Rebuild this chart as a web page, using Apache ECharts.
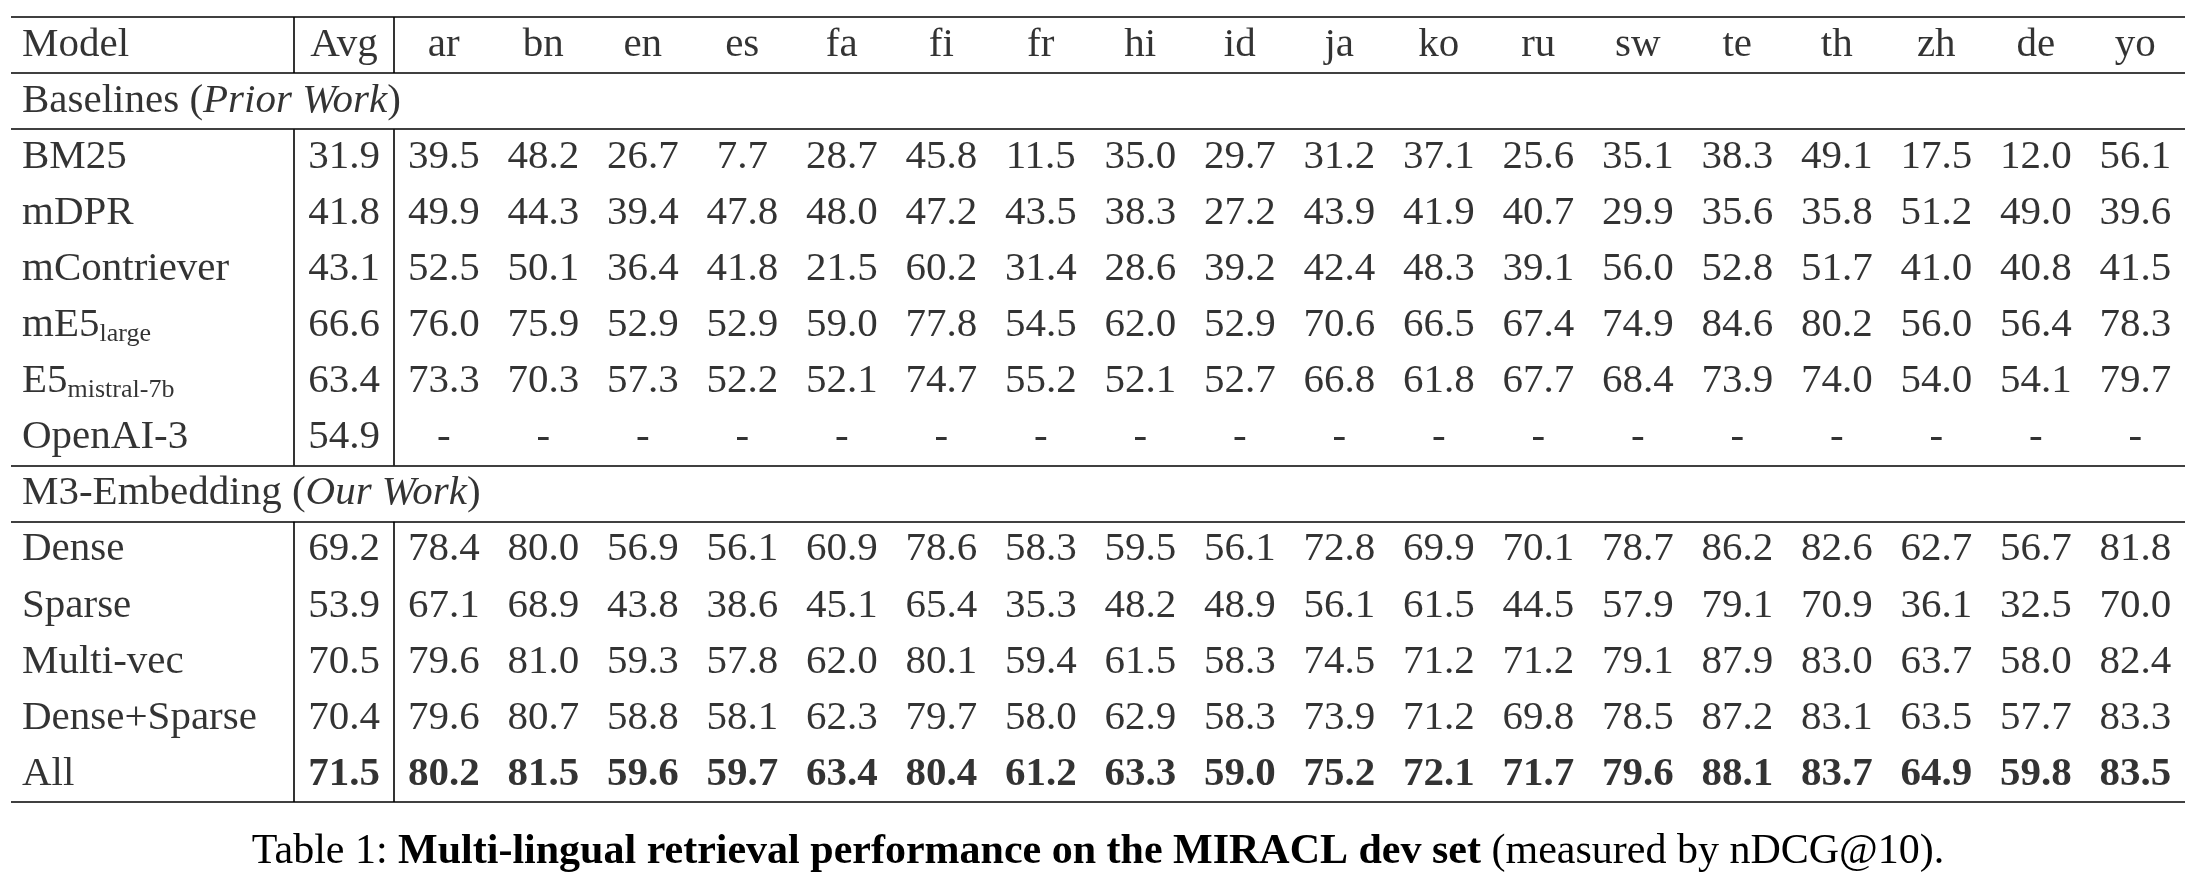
<!DOCTYPE html>
<html><head><meta charset="utf-8">
<script src="https://cdn.jsdelivr.net/npm/echarts@6/dist/echarts.min.js"></script>
<style>html,body{margin:0;padding:0;background:#fff}#c{width:2196px;height:890px}</style>
</head><body><div id="c"></div>
<script>
const languages=['ar','bn','en','es','fa','fi','fr','hi','id','ja','ko','ru','sw','te','th','zh','de','yo'];
const baselineModels=['BM25','mDPR','mContriever','mE5|large','E5|mistral-7b','OpenAI-3'];
const baselineAvg=['31.9','41.8','43.1','66.6','63.4','54.9'];
const baselineScores=[
['39.5','48.2','26.7','7.7','28.7','45.8','11.5','35.0','29.7','31.2','37.1','25.6','35.1','38.3','49.1','17.5','12.0','56.1'],
['49.9','44.3','39.4','47.8','48.0','47.2','43.5','38.3','27.2','43.9','41.9','40.7','29.9','35.6','35.8','51.2','49.0','39.6'],
['52.5','50.1','36.4','41.8','21.5','60.2','31.4','28.6','39.2','42.4','48.3','39.1','56.0','52.8','51.7','41.0','40.8','41.5'],
['76.0','75.9','52.9','52.9','59.0','77.8','54.5','62.0','52.9','70.6','66.5','67.4','74.9','84.6','80.2','56.0','56.4','78.3'],
['73.3','70.3','57.3','52.2','52.1','74.7','55.2','52.1','52.7','66.8','61.8','67.7','68.4','73.9','74.0','54.0','54.1','79.7'],
['-','-','-','-','-','-','-','-','-','-','-','-','-','-','-','-','-','-']];
const ourModels=['Dense','Sparse','Multi-vec','Dense+Sparse','All'];
const ourAvg=['69.2','53.9','70.5','70.4','71.5'];
const ourScores=[
['78.4','80.0','56.9','56.1','60.9','78.6','58.3','59.5','56.1','72.8','69.9','70.1','78.7','86.2','82.6','62.7','56.7','81.8'],
['67.1','68.9','43.8','38.6','45.1','65.4','35.3','48.2','48.9','56.1','61.5','44.5','57.9','79.1','70.9','36.1','32.5','70.0'],
['79.6','81.0','59.3','57.8','62.0','80.1','59.4','61.5','58.3','74.5','71.2','71.2','79.1','87.9','83.0','63.7','58.0','82.4'],
['79.6','80.7','58.8','58.1','62.3','79.7','58.0','62.9','58.3','73.9','71.2','69.8','78.5','87.2','83.1','63.5','57.7','83.3'],
['80.2','81.5','59.6','59.7','63.4','80.4','61.2','63.3','59.0','75.2','72.1','71.7','79.6','88.1','83.7','64.9','59.8','83.5']];
const headerModel='Model', headerAvg='Avg';
const sectionBaselines=['Baselines (','Prior Work',')'];
const sectionOurs=['M3-Embedding (','Our Work',')'];
const captionParts=['Table 1: ','Multi-lingual retrieval performance on the MIRACL dev set',' (measured by nDCG@10).'];

const FS=41, FONT='Liberation Serif';
const rich={n:{fontSize:FS,fontFamily:FONT,color:'#000'},s:{fontSize:26,fontFamily:FONT,color:'#000',padding:[17,0,0,0]},i:{fontSize:FS,fontFamily:FONT,fontStyle:'italic',color:'#000'}};
function fmtModel(m){const p=m.split('|');return p.length>1?'{n|'+p[0]+'}{s|'+p[1]+'}':'{n|'+p[0]+'}';}

const modelData=[], avgData=[], langData=[];
modelData.push([0,0.5,'{n|'+headerModel+'}']);
avgData.push([0.5,0.5,headerAvg]);
languages.forEach((l,i)=>langData.push([i+0.5,0.5,l]));
modelData.push([0,1.5,'{n|'+sectionBaselines[0]+'}{i|'+sectionBaselines[1]+'}{n|'+sectionBaselines[2]+'}']);
baselineModels.forEach((m,r)=>{const y=r+2.5;modelData.push([0,y,fmtModel(m)]);avgData.push([0.5,y,baselineAvg[r]]);baselineScores[r].forEach((v,i)=>langData.push([i+0.5,y,v]));});
modelData.push([0,8.5,'{n|'+sectionOurs[0]+'}{i|'+sectionOurs[1]+'}{n|'+sectionOurs[2]+'}']);
ourModels.forEach((m,r)=>{const y=r+9.5;const bold=r===ourModels.length-1;
  modelData.push([0,y,fmtModel(m)]);
  avgData.push(bold?{value:[0.5,y,ourAvg[r]],label:{fontWeight:'bold'}}:[0.5,y,ourAvg[r]]);
  ourScores[r].forEach((v,i)=>langData.push(bold?{value:[i+0.5,y,v],label:{fontWeight:'bold'}}:[i+0.5,y,v]));});

const TOP=17,BOT=88;
const grids=[{left:11,width:283,top:TOP,bottom:BOT},{left:294,width:100,top:TOP,bottom:BOT},{left:394,right:11,top:TOP,bottom:BOT},{left:11,right:11,top:TOP,bottom:BOT}];
const xMax=[1,1,languages.length,1];
const xAxis=grids.map((g,i)=>({gridIndex:i,type:'value',min:0,max:xMax[i],show:false}));
const yAxis=grids.map((g,i)=>({gridIndex:i,type:'value',min:0,max:14,inverse:true,show:false}));
const baseLabel={show:true,color:'#000',fontSize:FS,fontFamily:FONT,formatter:p=>p.value[2]};
const lineStyle={color:'#000',width:1.6,type:'solid'};
const option={animation:false,backgroundColor:'#fff',grid:grids,xAxis,yAxis,
 title:{text:'{a|'+captionParts[0]+'}{b|'+captionParts[1]+'}{a|'+captionParts[2]+'}',left:'center',top:826,
  textStyle:{fontWeight:'normal',rich:{a:{fontSize:42,fontFamily:FONT,fontWeight:'normal',color:'#000'},b:{fontSize:42,fontFamily:FONT,fontWeight:'bold',color:'#000'}}}},
 series:[
  {type:'scatter',xAxisIndex:0,yAxisIndex:0,symbolSize:0,data:modelData,label:Object.assign({},baseLabel,{position:'right',distance:0,offset:[11,0],rich})},
  {type:'scatter',xAxisIndex:1,yAxisIndex:1,symbolSize:0,data:avgData,label:Object.assign({},baseLabel,{position:'inside'}),
   markLine:{silent:true,symbol:'none',label:{show:false},lineStyle,data:[
    [{coord:[0,0]},{coord:[0,1]}],[{coord:[1,0]},{coord:[1,1]}],
    [{coord:[0,2]},{coord:[0,8]}],[{coord:[1,2]},{coord:[1,8]}],
    [{coord:[0,9]},{coord:[0,14]}],[{coord:[1,9]},{coord:[1,14]}]]}},
  {type:'scatter',xAxisIndex:2,yAxisIndex:2,symbolSize:0,data:langData,label:Object.assign({},baseLabel,{position:'inside'})},
  {type:'scatter',xAxisIndex:3,yAxisIndex:3,symbolSize:0,data:[],
   markLine:{silent:true,symbol:'none',label:{show:false},lineStyle,data:[{yAxis:0},{yAxis:1},{yAxis:2},{yAxis:8},{yAxis:9},{yAxis:14}]}}
 ]};
echarts.init(document.getElementById('c')).setOption(option);
</script></body></html>
